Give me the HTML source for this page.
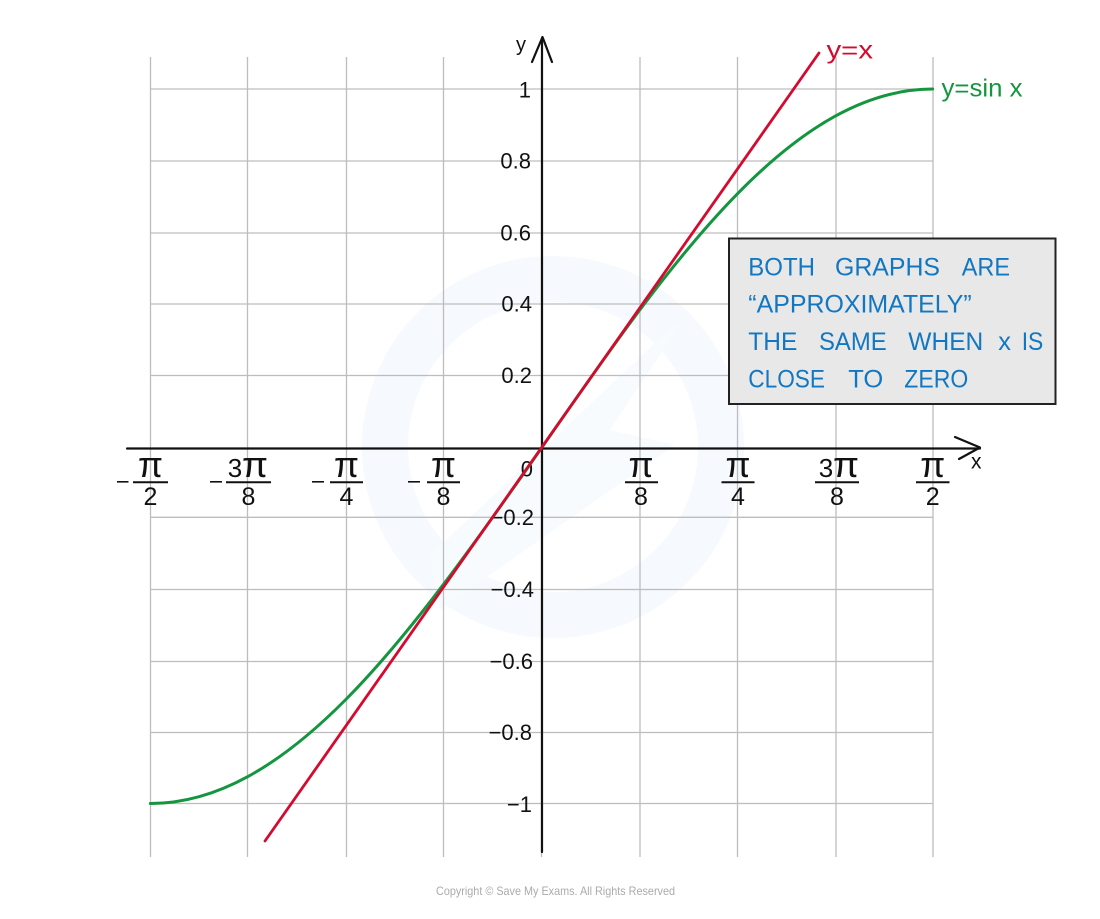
<!DOCTYPE html>
<html>
<head>
<meta charset="utf-8">
<style>
  html, body { margin: 0; padding: 0; background: #ffffff; }
  svg { display: block; }
  text { font-family: "Liberation Sans", "DejaVu Sans", sans-serif; }
</style>
</head>
<body>
<svg width="1100" height="919" viewBox="0 0 1100 919" xmlns="http://www.w3.org/2000/svg">
  <rect x="0" y="0" width="1100" height="919" fill="#ffffff"/>

  <!-- faint watermark -->
  <circle cx="553" cy="447" r="168" fill="none" stroke="#f6f9fd" stroke-width="46"/>
  <path d="M 430 555 L 690 310 L 610 430 L 675 445 L 440 610 Z" fill="#f8fbfe"/>

  <!-- grid -->
  <g stroke="#bdbdbd" stroke-width="1.3" fill="none">
    <line x1="150.5" y1="57" x2="150.5" y2="857"/>
    <line x1="247.5" y1="57" x2="247.5" y2="857"/>
    <line x1="346.5" y1="57" x2="346.5" y2="857"/>
    <line x1="443.5" y1="57" x2="443.5" y2="857"/>
    <line x1="541.5" y1="57" x2="541.5" y2="857"/>
    <line x1="640" y1="57" x2="640" y2="857"/>
    <line x1="737.5" y1="57" x2="737.5" y2="857"/>
    <line x1="836" y1="57" x2="836" y2="857"/>
    <line x1="933" y1="57" x2="933" y2="857"/>

    <line x1="150" y1="89" x2="933" y2="89"/>
    <line x1="150" y1="161" x2="933" y2="161"/>
    <line x1="150" y1="233" x2="933" y2="233"/>
    <line x1="150" y1="304" x2="933" y2="304"/>
    <line x1="150" y1="375.5" x2="933" y2="375.5"/>
    <line x1="150" y1="517.3" x2="933" y2="517.3"/>
    <line x1="150" y1="589.5" x2="933" y2="589.5"/>
    <line x1="150" y1="661.5" x2="933" y2="661.5"/>
    <line x1="150" y1="732.5" x2="933" y2="732.5"/>
    <line x1="150" y1="803.5" x2="933" y2="803.5"/>
  </g>

  <!-- axes -->
  <g stroke="#111111" stroke-width="2.2" fill="none" stroke-linecap="round" stroke-linejoin="round">
    <line x1="127" y1="448.5" x2="980" y2="448.5"/>
    <polyline points="955,437 980,447.5 959,459"/>
    <line x1="542" y1="38" x2="542" y2="852"/>
    <polyline points="532,62 542.5,37 552,62"/>
  </g>

  <!-- axis letters -->
  <text x="516" y="51" font-size="20" fill="#111">y</text>
  <text x="971" y="468.5" font-size="21" fill="#111">x</text>

  <!-- y tick labels -->
  <g font-size="22" fill="#111" text-anchor="end">
    <text x="531" y="97.5">1</text>
    <text x="531" y="168.5">0.8</text>
    <text x="531" y="240.5">0.6</text>
    <text x="532" y="311.5">0.4</text>
    <text x="532" y="383">0.2</text>
    <text x="533" y="476.5">0</text>
    <text x="534" y="525">−0.2</text>
    <text x="534" y="597">−0.4</text>
    <text x="533" y="669">−0.6</text>
    <text x="532" y="740">−0.8</text>
    <text x="532" y="812">−1</text>
  </g>

  <!-- x tick labels (fractions) -->
  <g fill="#111">
    <g stroke="#111" stroke-width="2">
      <line x1="133" y1="482.3" x2="168" y2="482.3"/>
      <line x1="226" y1="482.3" x2="271" y2="482.3"/>
      <line x1="330" y1="482.3" x2="363" y2="482.3"/>
      <line x1="427" y1="482.3" x2="460" y2="482.3"/>
      <line x1="625" y1="482.3" x2="658" y2="482.3"/>
      <line x1="721.5" y1="482.3" x2="754.5" y2="482.3"/>
      <line x1="815" y1="482.3" x2="859" y2="482.3"/>
      <line x1="916" y1="482.3" x2="949.5" y2="482.3"/>
    </g>
    <!-- minus signs -->
    <g stroke="#111" stroke-width="1.6">
      <line x1="117" y1="481.8" x2="128.5" y2="481.8"/>
      <line x1="210" y1="481.8" x2="222" y2="481.8"/>
      <line x1="312" y1="481.8" x2="324" y2="481.8"/>
      <line x1="408" y1="481.8" x2="420" y2="481.8"/>
    </g>
    <!-- pi numerators -->
    <g font-size="27" text-anchor="middle">
      <text transform="translate(150.5,477) scale(1,1.35)" textLength="25" lengthAdjust="spacingAndGlyphs">π</text>
      <text transform="translate(255,477) scale(1,1.35)" textLength="26" lengthAdjust="spacingAndGlyphs">π</text>
      <text transform="translate(346.5,477) scale(1,1.35)" textLength="25" lengthAdjust="spacingAndGlyphs">π</text>
      <text transform="translate(443.5,477) scale(1,1.35)" textLength="25" lengthAdjust="spacingAndGlyphs">π</text>
      <text transform="translate(641,477) scale(1,1.35)" textLength="25" lengthAdjust="spacingAndGlyphs">π</text>
      <text transform="translate(738,477) scale(1,1.35)" textLength="25" lengthAdjust="spacingAndGlyphs">π</text>
      <text transform="translate(846,477) scale(1,1.35)" textLength="26" lengthAdjust="spacingAndGlyphs">π</text>
      <text transform="translate(932.7,477) scale(1,1.35)" textLength="25" lengthAdjust="spacingAndGlyphs">π</text>
    </g>
    <g font-size="26" text-anchor="middle">
      <text x="235" y="477">3</text>
      <text x="826" y="477">3</text>
    </g>
    <!-- denominators -->
    <g font-size="25" text-anchor="middle">
      <text x="150.5" y="505">2</text>
      <text x="248.5" y="505">8</text>
      <text x="346.5" y="505">4</text>
      <text x="443.5" y="505">8</text>
      <text x="641" y="505">8</text>
      <text x="738" y="505">4</text>
      <text x="837" y="505">8</text>
      <text x="932.7" y="505">2</text>
    </g>
  </g>

  <!-- y = sin x (cubic Hermite segments) -->
  <path fill="none" stroke="#13963f" stroke-width="3" stroke-linejoin="round" stroke-linecap="round"
    d="M 150.37 803.5
       C 182.96 803.5, 215.56 794.25, 248.15 776.44
       C 280.74 758.63, 313.35 732.29, 345.94 699.38
       C 378.53 666.47, 411.13 627.03, 443.72 584.04
       C 476.31 541.05, 508.91 494.76, 541.5 448
       C 574.09 401.24, 606.69 354.04, 639.28 310.62
       C 671.87 267.20, 704.47 227.38, 737.06 194.15
       C 769.65 160.92, 802.26 134.31, 834.85 116.33
       C 867.44 98.35, 900.04 89, 932.63 89"/>

  <!-- y = x -->
  <line x1="265" y1="841" x2="819" y2="53" stroke="#d40a2e" stroke-width="2.8" stroke-linecap="round"/>

  <!-- curve labels -->
  <text x="826.5" y="58.5" font-size="25" fill="#d40a2e" textLength="46.5" lengthAdjust="spacingAndGlyphs">y=x</text>
  <text x="941.5" y="96.5" font-size="25" fill="#13963f" textLength="81" lengthAdjust="spacingAndGlyphs">y=sin x</text>

  <!-- annotation box -->
  <rect x="729" y="238.5" width="326.5" height="165.5" fill="#e8e8e8" stroke="#222" stroke-width="2"/>
  <g font-size="25" fill="#1177c2">
    <text x="748.3" y="275.7" textLength="66.7" lengthAdjust="spacingAndGlyphs">BOTH</text>
    <text x="835" y="275.7" textLength="105" lengthAdjust="spacingAndGlyphs">GRAPHS</text>
    <text x="961.7" y="275.7" textLength="48.3" lengthAdjust="spacingAndGlyphs">ARE</text>

    <text x="748.3" y="312.7" textLength="223.4" lengthAdjust="spacingAndGlyphs">“APPROXIMATELY”</text>

    <text x="748.3" y="350" textLength="49" lengthAdjust="spacingAndGlyphs">THE</text>
    <text x="819" y="350" textLength="67.7" lengthAdjust="spacingAndGlyphs">SAME</text>
    <text x="908.3" y="350" textLength="75" lengthAdjust="spacingAndGlyphs">WHEN</text>
    <text x="998.3" y="350" textLength="12.7" lengthAdjust="spacingAndGlyphs">x</text>
    <text x="1021.7" y="350" textLength="21.6" lengthAdjust="spacingAndGlyphs">IS</text>

    <text x="748.3" y="387.3" textLength="76.7" lengthAdjust="spacingAndGlyphs">CLOSE</text>
    <text x="848.3" y="387.3" textLength="35" lengthAdjust="spacingAndGlyphs">TO</text>
    <text x="904.3" y="387.3" textLength="64" lengthAdjust="spacingAndGlyphs">ZERO</text>
  </g>

  <!-- copyright -->
  <text x="436" y="895" font-size="12" fill="#aaaaaa" textLength="239" lengthAdjust="spacingAndGlyphs">Copyright © Save My Exams. All Rights Reserved</text>
</svg>
</body>
</html>
